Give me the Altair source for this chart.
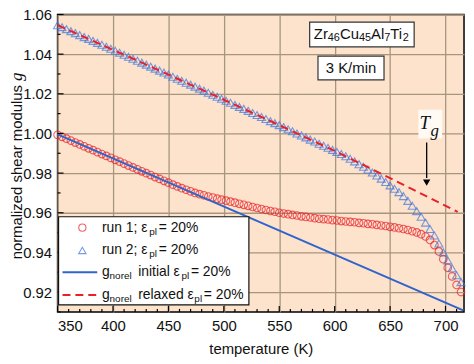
import altair as alt
import pandas as pd

# ---------------- data ----------------
temps = [350, 354, 358, 362, 366, 370, 374, 378, 382, 386, 390, 394, 398, 402, 406, 410,
         414, 418, 422, 426, 430, 434, 438, 442, 446, 450, 454, 458, 462, 466, 470, 474,
         478, 482, 486, 490, 494, 498, 502, 506, 510, 514, 518, 522, 526, 530, 534, 538,
         542, 546, 550, 554, 558, 562, 566, 570, 574, 578, 582, 586, 590, 594, 598, 602,
         606, 610, 614, 618, 622, 626, 630, 634, 638, 642, 646, 650, 654, 658, 662, 666,
         670, 674, 678, 682, 686, 690, 694, 698, 702, 706, 710, 714]

run1 = [0.9993, 0.9983, 0.9974, 0.9964, 0.9954, 0.9945, 0.9935, 0.9925, 0.9916, 0.9906,
        0.9896, 0.9887, 0.9877, 0.9867, 0.9858, 0.9848, 0.9838, 0.9829, 0.9819, 0.9809,
        0.9800, 0.9790, 0.9780, 0.9771, 0.9761, 0.9752, 0.9742, 0.9733, 0.9724, 0.9716,
        0.9708, 0.9700, 0.9694, 0.9688, 0.9682, 0.9677, 0.9671, 0.9666, 0.9661, 0.9656,
        0.9651, 0.9645, 0.9640, 0.9635, 0.9629, 0.9624, 0.9619, 0.9614, 0.9609, 0.9605,
        0.9600, 0.9596, 0.9593, 0.9589, 0.9586, 0.9582, 0.9579, 0.9576, 0.9573, 0.9570,
        0.9568, 0.9566, 0.9563, 0.9561, 0.9558, 0.9556, 0.9554, 0.9552, 0.9549, 0.9547,
        0.9544, 0.9542, 0.9539, 0.9536, 0.9533, 0.9529, 0.9526, 0.9522, 0.9518, 0.9513,
        0.9507, 0.9501, 0.9492, 0.9480, 0.9463, 0.9437, 0.9405, 0.9366, 0.9323, 0.9279,
        0.9236, 0.9200]

run2 = [1.0546, 1.0536, 1.0526, 1.0516, 1.0506, 1.0496, 1.0486, 1.0477, 1.0467, 1.0457,
        1.0447, 1.0437, 1.0427, 1.0417, 1.0407, 1.0397, 1.0387, 1.0377, 1.0367, 1.0357,
        1.0347, 1.0337, 1.0327, 1.0317, 1.0307, 1.0297, 1.0286, 1.0276, 1.0266, 1.0256,
        1.0246, 1.0236, 1.0226, 1.0216, 1.0205, 1.0195, 1.0185, 1.0175, 1.0165, 1.0155,
        1.0144, 1.0134, 1.0124, 1.0114, 1.0103, 1.0093, 1.0083, 1.0073, 1.0062, 1.0052,
        1.0042, 1.0032, 1.0021, 1.0011, 1.0000, 0.9990, 0.9980, 0.9969, 0.9959, 0.9948,
        0.9938, 0.9928, 0.9917, 0.9907, 0.9896, 0.9885, 0.9872, 0.9859, 0.9845, 0.9832,
        0.9818, 0.9803, 0.9788, 0.9772, 0.9755, 0.9738, 0.9721, 0.9704, 0.9684, 0.9660,
        0.9635, 0.9608, 0.9580, 0.9550, 0.9518, 0.9485, 0.9445, 0.9400, 0.9360, 0.9320,
        0.9285, 0.9250]

initial_T = [350, 716]
initial_g = [0.9995, 0.9108]

relaxed_T = [350, 425, 500, 550, 600, 650, 711]
relaxed_g = [1.0546, 1.0360, 1.0170, 1.0042, 0.9912, 0.9775, 0.9605]

x_major = [350, 400, 450, 500, 550, 600, 650, 700]
x_minor = [360, 370, 380, 390, 410, 420, 430, 440, 460, 470, 480, 490, 510, 520, 530, 540,
           560, 570, 580, 590, 610, 620, 630, 640, 660, 670, 680, 690, 710]
y_major = [0.92, 0.94, 0.96, 0.98, 1.00, 1.02, 1.04, 1.06]
y_minor = [0.91, 0.93, 0.95, 0.97, 0.99, 1.01, 1.03, 1.05]

tg_T = [683]
arrow_top = [0.9955]
arrow_bottom = [0.9775]
arrow_tip = [0.9752]

# ---------------- styling ----------------
W, H = 410, 300
OY = -3  # shift of pixel-placed annotations
XDOM = [350, 716.7]
YDOM = [0.91, 1.06]
RED = "#e8202a"
BLUE = "#2f64cc"
TRI = "#3f74dc"
FONT = "Liberation Sans"

xs = alt.Scale(domain=XDOM, nice=False, zero=False)
ys = alt.Scale(domain=YDOM, nice=False, zero=False)

df1 = pd.DataFrame({"T": temps, "g": run1})
df2 = pd.DataFrame({"T": temps, "g": run2})
dfi = pd.DataFrame({"T": initial_T, "g": initial_g})
dfr = pd.DataFrame({"T": relaxed_T, "g": relaxed_g})

xaxis = alt.Axis(values=x_major, ticks=False, domain=False, grid=True, format="d",
                 title="temperature (K)", labelFontSize=15, labelFont=FONT,
                 labelColor="#111", labelPadding=7, titleFont=FONT, titleFontSize=15,
                 titleFontWeight="normal", titleColor="#111", titlePadding=8,
                 gridColor="#a8957f", gridWidth=1.3)
yaxis = alt.Axis(values=y_major, ticks=False, domain=False, grid=True, format=".2f",
                 title=None, labelFontSize=15, labelFont=FONT, labelColor="#111",
                 labelPadding=6, gridColor="#a8957f", gridWidth=1.3)

base_x = alt.X("T:Q", scale=xs, axis=xaxis)
base_y = alt.Y("g:Q", scale=ys, axis=yaxis)

pts1 = alt.Chart(df1).mark_point(shape="circle", filled=False, color=RED, size=58,
                                 strokeWidth=1.1).encode(x=base_x, y=base_y)
pts2 = alt.Chart(df2).mark_point(shape="triangle-up", filled=False, color=TRI, size=66,
                                 strokeWidth=1.1).encode(x="T:Q", y="g:Q")
line_i = alt.Chart(dfi).mark_line(color=BLUE, strokeWidth=2, clip=True).encode(x="T:Q", y="g:Q")
line_r = alt.Chart(dfr).mark_line(color=RED, strokeWidth=2, strokeDash=[8, 5],
                                  clip=True).encode(x="T:Q", y="g:Q")

# inward ticks
tx_major = alt.Chart(pd.DataFrame({"T": x_major})).mark_rule(color="black", strokeWidth=1.2).encode(
    x="T:Q", y=alt.value(H), y2=alt.value(H - 6))
tx_minor = alt.Chart(pd.DataFrame({"T": x_minor})).mark_rule(color="black", strokeWidth=1.2).encode(
    x="T:Q", y=alt.value(H), y2=alt.value(H - 3))
ty_major = alt.Chart(pd.DataFrame({"g": y_major})).mark_rule(color="black", strokeWidth=1.2).encode(
    y="g:Q", x=alt.value(0), x2=alt.value(6))
ty_minor = alt.Chart(pd.DataFrame({"g": y_minor})).mark_rule(color="black", strokeWidth=1.2).encode(
    y="g:Q", x=alt.value(0), x2=alt.value(3))

one = pd.DataFrame({"a": [0]})


def txt(x, y, s, size=14, font=FONT, style="normal", align="left", angle=0, color="#111"):
    return alt.Chart(one).mark_text(text=s, fontSize=size, font=font, fontStyle=style,
                                    align=align, baseline="middle", angle=angle,
                                    color=color).encode(x=alt.value(x), y=alt.value(y + OY))


def box(x1, y1, x2, y2, fill="white", stroke="#222", sw=1):
    return alt.Chart(one).mark_rect(fill=fill, stroke=stroke, strokeWidth=sw).encode(
        x=alt.value(x1), x2=alt.value(x2), y=alt.value(y1 + OY), y2=alt.value(y2 + OY))


layers = [pts1, pts2, line_i, line_r, tx_major, tx_minor, ty_major, ty_minor]

# y title with italic g
layers.append(txt(-41, 250, "normalized shear modulus ", size=15, angle=270))
layers.append(txt(-41, 70, "g", size=17, font="Liberation Serif", style="italic", angle=270))

# legend
layers.append(box(1, 207, 193, 296, stroke="#111", sw=1.2))
layers.append(alt.Chart(one).mark_point(shape="circle", filled=False, color=RED, size=52,
                                        strokeWidth=1.1).encode(x=alt.value(25), y=alt.value(218 + OY)))
layers.append(alt.Chart(one).mark_point(shape="triangle-up", filled=False, color=TRI, size=56,
                                        strokeWidth=1.1).encode(x=alt.value(25), y=alt.value(241 + OY)))
layers.append(alt.Chart(one).mark_rule(color=BLUE, strokeWidth=2).encode(
    x=alt.value(5), x2=alt.value(40), y=alt.value(263 + OY)))
layers.append(alt.Chart(one).mark_rule(color=RED, strokeWidth=2, strokeDash=[8, 5]).encode(
    x=alt.value(5), x2=alt.value(40), y=alt.value(286 + OY)))
for yy, lab in [(218, "run 1; ε"), (241, "run 2; ε")]:
    layers.append(txt(44.7, yy, lab))
    layers.append(txt(92.5, yy + 4, "pl", size=10))
    layers.append(txt(102, yy, "= 20%"))
for yy, lab, xs_pl, xs_eq in [(263, "initial ε", 125, 134.5), (286, "relaxed ε", 138, 147.5)]:
    layers.append(txt(44.7, yy, "g"))
    layers.append(txt(52.5, yy + 4, "norel", size=10))
    layers.append(txt(81.3, yy, lab))
    layers.append(txt(xs_pl, yy + 4, "pl", size=10))
    layers.append(txt(xs_eq, yy, "= 20%"))

# composition box
layers.append(box(254.3, 10.7, 359.7, 35.7, stroke="#333", sw=1.2))
comp = [("Zr", 15, 258.5, 0), ("46", 11, 272.6, 4), ("Cu", 15, 284.8, 0), ("45", 11, 304, 4),
        ("Al", 15, 316.2, 0), ("7", 11, 329.5, 4), ("Ti", 15, 335.6, 0), ("2", 11, 348.1, 4)]
for s, sz, xx, dy in comp:
    layers.append(txt(xx, 23 + dy, s, size=sz))

# rate box
layers.append(box(262.7, 45, 329.3, 69, stroke="#333", sw=1.2))
layers.append(txt(296, 57, "3 K/min", size=15, align="center"))

# Tg label and arrow
layers.append(box(364, 99, 388, 128, fill="#fffaf4", stroke="#fffaf4", sw=0))
layers.append(txt(370.5, 112.5, "T", size=19, font="Liberation Serif", style="italic", align="center"))
layers.append(txt(380.5, 121, "g", size=17, font="Liberation Serif", style="italic", align="center"))
dft = pd.DataFrame({"T": tg_T, "g1": arrow_top, "g2": arrow_bottom, "tip": arrow_tip})
layers.append(alt.Chart(dft).mark_rule(color="black", strokeWidth=1.3).encode(
    x="T:Q", y="g1:Q", y2="g2:Q"))
layers.append(alt.Chart(dft).mark_point(shape="triangle-down", filled=True, color="black",
                                        size=55, opacity=1).encode(x="T:Q", y="tip:Q"))

chart = alt.layer(*layers).properties(
    width=W, height=H,
    autosize=alt.AutoSizeParams(type="none"),
    padding={"left": 50, "top": 5, "right": 2, "bottom": 50},
).configure_view(
    fill="#fde3cc", stroke="black", strokeWidth=1.5
)

chart.save("out.html", embed_options={"renderer": "svg", "actions": False})
